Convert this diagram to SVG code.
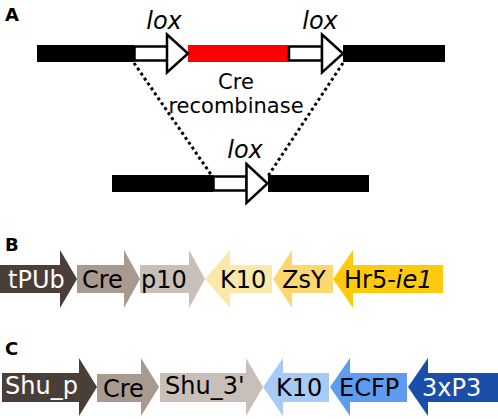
<svg xmlns="http://www.w3.org/2000/svg" width="498" height="419" viewBox="0 0 498 419">
<style>
.lbl{font-family:"DejaVu Sans",Verdana,sans-serif;font-weight:bold;font-size:18px;fill:#000}
.t{font-family:"DejaVu Sans",Verdana,sans-serif;font-size:24px;fill:#000}
.ta{font-family:"DejaVu Sans",Verdana,sans-serif;font-size:21px;fill:#000}
.lox{font-family:"DejaVu Sans",Verdana,sans-serif;font-style:italic;font-size:24px;fill:#000}
.w{fill:#fff}
.bar{fill:#000}
.loxs{fill:#fff;stroke:#000;stroke-width:2.5;stroke-linejoin:miter}
.dot{stroke:#000;stroke-width:3;stroke-dasharray:3 3;fill:none}
</style>
<rect width="498" height="419" fill="#fff"/>
<text class="lbl" x="5" y="21">A</text>
<text class="lbl" x="5" y="251">B</text>
<text class="lbl" x="5" y="355">C</text>

<g id="connectors">
<line class="dot" x1="134" y1="63" x2="212" y2="176"/>
<line class="dot" x1="343" y1="63" x2="268" y2="176"/>
</g>

<g id="top-construct">
<rect class="bar" x="37" y="45" width="97" height="17"/>
<rect x="188" y="45" width="100" height="17" fill="#ff0000"/>
<rect class="bar" x="343" y="45" width="102" height="17"/>
<rect class="loxs" x="134.5" y="46.5" width="33" height="14"/>
<polygon class="loxs" points="167,34.5 188,53.5 167,72.5"/>
<rect class="loxs" x="289" y="46.5" width="33" height="14"/>
<polygon class="loxs" points="322,34.5 343,53.5 322,72.5"/>
<text class="lox" x="164" y="29" text-anchor="middle">lox</text>
<text class="lox" x="320" y="29" text-anchor="middle">lox</text>
</g>

<g id="cre-label">
<text class="ta" x="236" y="89" text-anchor="middle">Cre</text>
<text class="ta" x="236" y="113" text-anchor="middle">recombinase</text>
</g>

<g id="bottom-construct">
<rect class="bar" x="112" y="175" width="101" height="17"/>
<rect class="bar" x="268" y="175" width="101" height="17"/>
<rect class="loxs" x="213.5" y="176.5" width="33" height="14"/>
<polygon class="loxs" points="246.5,164 267.5,183.5 246.5,203"/>
<text class="lox" x="245" y="158" text-anchor="middle">lox</text>
</g>

<g id="B-tPUb"><polygon fill="#4a3f38" points="0,265 60,265 60,250 77,279 60,308 60,293 0,293"/><text class="t w" x="8" y="288">tPUb</text></g>
<g id="B-Cre"><polygon fill="#a99a8f" points="77,265 124,265 124,250 140,279 124,308 124,293 77,293"/><text class="t" x="82" y="288">Cre</text></g>
<g id="B-p10"><polygon fill="#c8bfb8" points="140,265 189,265 189,250 205,279 189,308 189,293 140,293"/><text class="t" x="141" y="288">p10</text></g>
<g id="B-K10"><polygon fill="#fbe9a9" points="272,265 230,265 230,250 205,279 230,308 230,293 272,293"/><text class="t" x="220" y="288">K10</text></g>
<g id="B-ZsY"><polygon fill="#fdd870" points="333,265 292,265 292,250 273,279 292,308 292,293 333,293"/><text class="t" x="282" y="288">ZsY</text></g>
<g id="B-Hr5"><polygon fill="#ffc90e" points="443,265 353,265 353,250 333,279 353,308 353,293 443,293"/><text class="t" x="344" y="288">Hr5-<tspan font-style="italic">ie1</tspan></text></g>

<g id="C-Shu_p"><polygon fill="#4a3f38" points="2,373 79,373 79,358 97,387 79,416 79,402 2,402"/><text class="t w" x="5" y="394">Shu_p</text></g>
<g id="C-Cre"><polygon fill="#a99a8f" points="97,374 141,374 141,358 159,387 141,416 141,402 97,402"/><text class="t" x="103" y="397">Cre</text></g>
<g id="C-Shu_3"><polygon fill="#c8bfb8" points="160,373 246,373 246,358 263,387 246,416 246,402 160,402"/><text class="t" x="165" y="394">Shu_3'</text></g>
<g id="C-K10"><polygon fill="#a6cbf7" points="329,373 283,373 283,358 263,387 283,416 283,402 329,402"/><text class="t" x="276" y="396">K10</text></g>
<g id="C-ECFP"><polygon fill="#5d9cf0" points="407,373 350,373 350,358 330,387 350,416 350,402 407,402"/><text class="t" x="339" y="396">ECFP</text></g>
<g id="C-3xP3"><polygon fill="#1b4ea8" points="498,373 428,373 428,358 408,387 428,416 428,402 498,402"/><text class="t w" x="422" y="396">3xP3</text></g>
</svg>
